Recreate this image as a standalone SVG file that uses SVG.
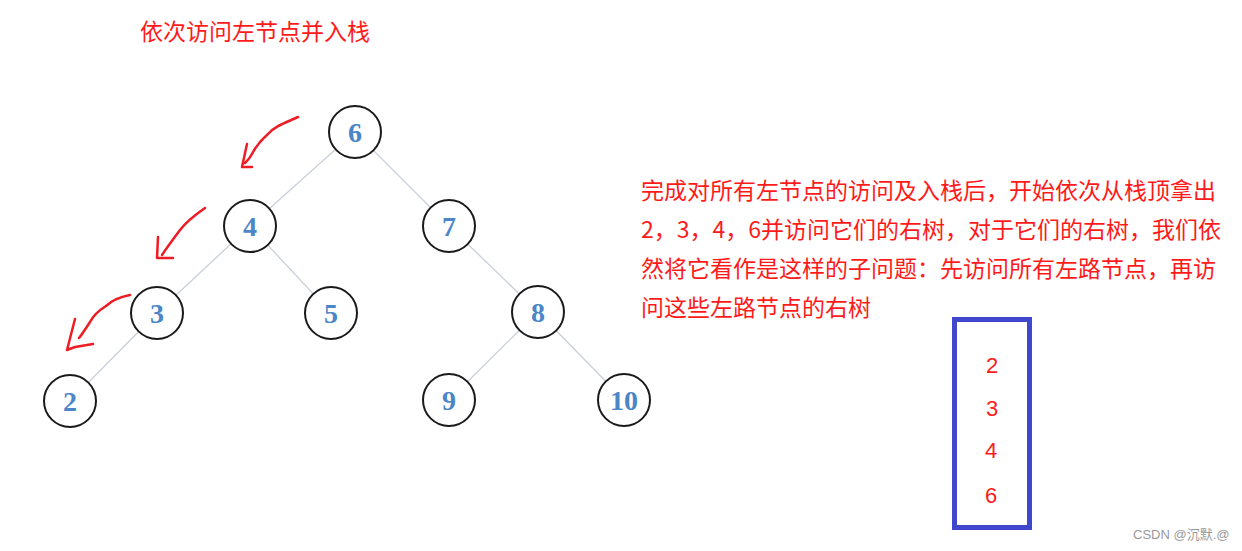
<svg xmlns="http://www.w3.org/2000/svg" width="1242" height="551" viewBox="0 0 1242 551">
<style>
.edge{stroke:#c9d0d8;stroke-width:1.3;fill:none}
.node circle{fill:#fff;stroke:#1a1a1a;stroke-width:2}
.node text{font-family:"Liberation Serif",serif;font-weight:bold;font-size:28px;fill:#4a86c8;text-anchor:middle}
.red{fill:#ff1a1a;font-family:"Noto Sans CJK SC",sans-serif;font-size:23px}
.arrow{stroke:#ee1c24;stroke-width:2.5;fill:none;stroke-linecap:round;stroke-linejoin:round}
.stk{fill:#ff1a1a;font-family:"Liberation Sans","Noto Sans CJK SC",sans-serif;font-size:22px;text-anchor:middle}
</style>
<rect width="1242" height="551" fill="#fff"/>
<text class="red" x="140" y="40">依次访问左节点并入栈</text>
<g id="connectors">
<line class="edge" x1="355" y1="132" x2="250" y2="226"/>
<line class="edge" x1="355" y1="132" x2="449" y2="226"/>
<line class="edge" x1="250" y1="226" x2="157" y2="313"/>
<line class="edge" x1="250" y1="226" x2="331" y2="313"/>
<line class="edge" x1="157" y1="313" x2="70" y2="401"/>
<line class="edge" x1="449" y1="226" x2="538" y2="312"/>
<line class="edge" x1="538" y1="312" x2="449" y2="400"/>
<line class="edge" x1="538" y1="312" x2="624" y2="400"/>
</g>
<g id="n6" class="node"><circle cx="355" cy="132" r="26"/><text x="355" y="142">6</text></g>
<g id="n4" class="node"><circle cx="250" cy="226" r="26"/><text x="250" y="236">4</text></g>
<g id="n7" class="node"><circle cx="449" cy="226" r="26"/><text x="449" y="236">7</text></g>
<g id="n3" class="node"><circle cx="157" cy="313" r="26"/><text x="157" y="323">3</text></g>
<g id="n5" class="node"><circle cx="331" cy="313" r="26"/><text x="331" y="323">5</text></g>
<g id="n8" class="node"><circle cx="538" cy="312" r="26"/><text x="538" y="322">8</text></g>
<g id="n2" class="node"><circle cx="70" cy="401" r="26"/><text x="70" y="411">2</text></g>
<g id="n9" class="node"><circle cx="449" cy="400" r="26"/><text x="449" y="410">9</text></g>
<g id="n10" class="node"><circle cx="624" cy="400" r="26"/><text x="624" y="410">10</text></g>
<g id="arrows">
<path class="arrow" d="M298,117 C285,123 275,126 268,134 C260,141 255,148 252,154 C250,158 248,160 245,163"/>
<path class="arrow" d="M247,144 L242,167 L252,167"/>
<path class="arrow" d="M205,208 C195,215 186,222 180,230 C174,238 168,246 162,255"/>
<path class="arrow" d="M158,237 L157,258 L173,258"/>
<path class="arrow" d="M130,295 C120,297 112,300 106,306 C98,311 93,316 90,322 C86,328 83,333 79,338"/>
<path class="arrow" d="M75,319 L67,350 L75,347 L93,344"/>
</g>
<g id="para">
<text class="red" x="641" y="199">完成对所有左节点的访问及入栈后，开始依次从栈顶拿出</text>
<text class="red" x="641" y="238">2，3，4，6并访问它们的右树，对于它们的右树，我们依</text>
<text class="red" x="641" y="277">然将它看作是这样的子问题：先访问所有左路节点，再访</text>
<text class="red" x="641" y="316">问这些左路节点的右树</text>
</g>
<g id="stack">
<rect x="954.5" y="319.5" width="75" height="208" fill="none" stroke="#3f48cc" stroke-width="5"/>
<text class="stk" x="992" y="373">2</text>
<text class="stk" x="992" y="416">3</text>
<text class="stk" x="991" y="458">4</text>
<text class="stk" x="991" y="503">6</text>
</g>
<text x="1133" y="539" font-family="Liberation Sans,'Noto Sans CJK SC',sans-serif" font-size="13" fill="#999">CSDN @沉默.@</text>
</svg>
